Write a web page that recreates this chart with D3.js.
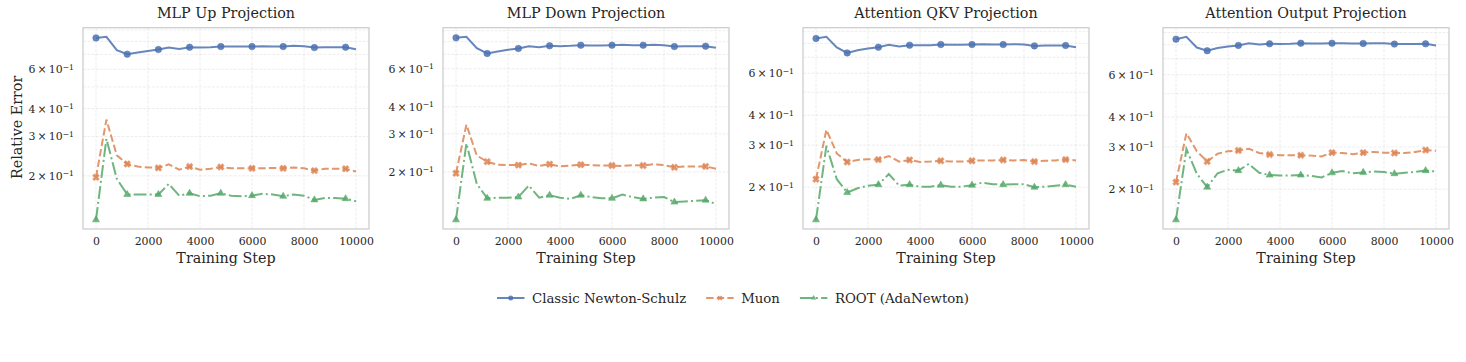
<!DOCTYPE html>
<html><head><meta charset="utf-8">
<script src="https://cdn.jsdelivr.net/npm/d3@7"></script>
<style>
body{margin:0;background:#fff;}
svg text{font-family:"DejaVu Serif",serif;fill:#262626;}
</style>
</head><body>
<svg id="chart" width="1466" height="362"></svg>
<script>
// ---------- data ----------
const steps = [0,400,800,1200,1600,2000,2400,2800,3200,3600,4000,4400,4800,5200,5600,6000,6400,6800,7200,7600,8000,8400,8800,9200,9600,10000];
const panelTitles = ["MLP Up Projection","MLP Down Projection","Attention QKV Projection","Attention Output Projection"];
const seriesNames = ["Classic Newton-Schulz","Muon","ROOT (AdaNewton)"];
const xTickValues = [0,2000,4000,6000,8000,10000];
const yTickValues = [0.2,0.3,0.4,0.6];
const yTickMantissa = ["2","3","4","6"];

const upNS   = [0.829,0.838,0.730,0.701,0.713,0.725,0.735,0.750,0.740,0.753,0.750,0.753,0.758,0.758,0.758,0.758,0.761,0.758,0.758,0.764,0.761,0.750,0.753,0.753,0.753,0.738];
const upMuon = [0.197,0.357,0.247,0.226,0.220,0.218,0.217,0.225,0.213,0.220,0.213,0.215,0.219,0.216,0.216,0.216,0.216,0.217,0.216,0.218,0.216,0.211,0.215,0.215,0.215,0.209];
const upRoot = [0.127,0.293,0.194,0.165,0.165,0.165,0.165,0.184,0.163,0.167,0.162,0.163,0.167,0.163,0.162,0.163,0.166,0.165,0.162,0.165,0.163,0.156,0.159,0.159,0.158,0.154];

const downNS   = [0.834,0.843,0.747,0.706,0.721,0.734,0.745,0.763,0.755,0.766,0.763,0.766,0.771,0.769,0.769,0.771,0.774,0.771,0.771,0.774,0.771,0.760,0.763,0.763,0.763,0.750];
const downMuon = [0.197,0.331,0.238,0.223,0.216,0.215,0.215,0.219,0.213,0.217,0.212,0.214,0.216,0.215,0.214,0.214,0.213,0.215,0.214,0.217,0.215,0.210,0.212,0.212,0.212,0.207];
const downRoot = [0.120,0.271,0.176,0.151,0.152,0.152,0.153,0.173,0.152,0.156,0.152,0.150,0.156,0.153,0.151,0.151,0.157,0.153,0.150,0.152,0.153,0.145,0.146,0.147,0.148,0.142];

const qkvNS   = [0.839,0.852,0.769,0.730,0.749,0.761,0.771,0.789,0.776,0.786,0.786,0.786,0.791,0.789,0.789,0.791,0.794,0.791,0.791,0.794,0.791,0.781,0.784,0.784,0.784,0.771];
const qkvMuon = [0.216,0.348,0.277,0.255,0.260,0.262,0.261,0.270,0.256,0.260,0.255,0.256,0.258,0.256,0.256,0.258,0.259,0.259,0.260,0.259,0.260,0.256,0.258,0.259,0.261,0.259];
const qkvRoot = [0.146,0.298,0.216,0.190,0.198,0.203,0.205,0.227,0.203,0.205,0.201,0.201,0.204,0.201,0.201,0.204,0.209,0.206,0.205,0.206,0.206,0.200,0.201,0.203,0.205,0.201];

const outNS   = [0.844,0.863,0.779,0.755,0.775,0.787,0.795,0.812,0.802,0.807,0.805,0.807,0.812,0.810,0.810,0.812,0.812,0.810,0.810,0.812,0.812,0.805,0.805,0.805,0.807,0.795];
const outMuon = [0.214,0.342,0.288,0.261,0.281,0.288,0.290,0.295,0.283,0.279,0.277,0.277,0.277,0.276,0.274,0.284,0.283,0.280,0.284,0.286,0.284,0.283,0.283,0.286,0.291,0.289];
const outRoot = [0.149,0.294,0.232,0.204,0.233,0.241,0.239,0.255,0.234,0.229,0.228,0.228,0.229,0.227,0.224,0.234,0.238,0.233,0.235,0.237,0.236,0.232,0.234,0.236,0.239,0.237];

const panels = [
  [upNS, upMuon, upRoot],
  [downNS, downMuon, downRoot],
  [qkvNS, qkvMuon, qkvRoot],
  [outNS, outMuon, outRoot]
];

// ---------- style ----------
const colors = ["#4c72b0","#dd8452","#55a868"];
const dashes = [null, "7.4,3.2", "12.8,3.2,2,3.2"];
const markerTypes = ["circle","x","triangle"];
const W = 1466, H = 362;
const panelLeft = [83, 443, 803, 1163];
const panelW = 286, panelTop = 27.7, panelBottom = 229;

const svg = d3.select("#chart");

function markerPath(type, size){
  if(type==="circle") return d3.symbol(d3.symbolCircle, size*size*Math.PI/4)();
  if(type==="triangle") return d3.symbol(d3.symbolTriangle, size*size*0.5)();
  return d3.symbol(d3.symbolCross, size*size*0.62)();
}

panels.forEach((series, pi) => {
  const g = svg.append("g").attr("transform", `translate(${panelLeft[pi]},${panelTop})`);
  const ph = panelBottom - panelTop;
  const x = d3.scaleLinear().domain([-500, 10500]).range([0, panelW]);
  const all = series.flat();
  const lmin = Math.log10(d3.min(all)), lmax = Math.log10(d3.max(all));
  const pad = (lmax - lmin) * 0.05;
  const y = d3.scaleLog().domain([Math.pow(10, lmin - pad), Math.pow(10, lmax + pad)]).range([ph, 0]);

  // grid
  const gridG = g.append("g");
  xTickValues.forEach(v => {
    gridG.append("line").attr("x1", x(v)).attr("x2", x(v)).attr("y1", 0).attr("y2", ph)
      .attr("stroke", "#cccccc").attr("stroke-opacity", 0.45).attr("stroke-width", 0.8).attr("stroke-dasharray", "3,1.3");
  });
  const minorY = [0.1,0.2,0.3,0.4,0.5,0.6,0.7,0.8,0.9].filter(v => v >= y.domain()[0] && v <= y.domain()[1]);
  minorY.forEach(v => {
    gridG.append("line").attr("x1", 0).attr("x2", panelW).attr("y1", y(v)).attr("y2", y(v))
      .attr("stroke", "#cccccc").attr("stroke-opacity", 0.45).attr("stroke-width", 0.8).attr("stroke-dasharray", "3,1.3");
  });

  // x axis
  const xAxis = d3.axisBottom(x).tickValues(xTickValues).tickSize(0).tickPadding(8).tickFormat(d3.format("d"));
  const xa = g.append("g").attr("transform", `translate(0,${ph})`).call(xAxis);
  xa.select(".domain").remove();
  xa.selectAll("text").style("font-size", "10.9px").attr("fill", "#262626");

  // y axis
  const yAxis = d3.axisLeft(y).tickValues(yTickValues).tickSize(0).tickPadding(9).tickFormat(() => "");
  const ya = g.append("g").call(yAxis);
  ya.select(".domain").remove();
  ya.selectAll(".tick text").each(function(d){
    const t = d3.select(this).style("font-size", "10.9px").attr("fill", "#262626");
    const i = yTickValues.indexOf(d);
    t.text(null);
    t.append("tspan").text(yTickMantissa[i] + "\u2009\u00d7\u200910");
    t.append("tspan").attr("dy", "-0.45em").style("font-size", "7.7px").text("\u22121");
  });

  // lines
  series.forEach((vals, si) => {
    const line = d3.line().x((d, i) => x(steps[i])).y(d => y(d));
    g.append("path").datum(vals).attr("d", line)
      .attr("fill", "none").attr("stroke", colors[si]).attr("stroke-width", 2)
      .attr("stroke-opacity", 0.85)
      .attr("stroke-dasharray", dashes[si]);
    const mg = g.append("g");
    vals.forEach((v, i) => {
      if(i % 3 !== 0) return;
      const rot = markerTypes[si] === "x" ? 45 : 0;
      mg.append("path").attr("d", markerPath(markerTypes[si], 6.5))
        .attr("transform", `translate(${x(steps[i])},${y(v)}) rotate(${rot})`)
        .attr("fill", colors[si]).attr("fill-opacity", 0.85)
        .attr("stroke", colors[si]).attr("stroke-opacity", 0.5).attr("stroke-width", 1);
    });
  });

  // frame
  g.append("rect").attr("x", 0).attr("y", 0).attr("width", panelW).attr("height", ph)
    .attr("fill", "none").attr("stroke", "#cccccc").attr("stroke-width", 1.25);

  // title
  g.append("text").attr("x", panelW/2).attr("y", -10).attr("text-anchor", "middle")
    .style("font-size", "14.3px").text(panelTitles[pi]);
  // x label
  g.append("text").attr("x", x(5000)).attr("y", ph + 34.5).attr("text-anchor", "middle")
    .style("font-size", "14.3px").text("Training Step");
  if(pi === 0){
    g.append("text").attr("transform", `translate(${17 - panelLeft[0]},${(ph)/2 - 1}) rotate(-90)`)
      .attr("text-anchor", "middle").attr("dy", "0.35em")
      .style("font-size", "14.3px").text("Relative Error");
  }
});

// legend
const legend = svg.append("g");
let cx = 0;
seriesNames.forEach((name, si) => {
  const ig = legend.append("g");
  ig.append("line").attr("x1", 0).attr("x2", 27.5).attr("y1", 0).attr("y2", 0)
    .attr("stroke", colors[si]).attr("stroke-width", 2).attr("stroke-opacity", 0.85)
    .attr("stroke-dasharray", dashes[si]);
  ig.append("path").attr("d", markerPath(markerTypes[si], 5))
    .attr("transform", `translate(13.75,0) rotate(${markerTypes[si]==="x"?45:0})`)
    .attr("fill", colors[si]).attr("fill-opacity", 0.85);
  const t = ig.append("text").attr("x", 35).attr("dy", "0.35em").style("font-size", "13.3px").text(name);
  const w = 35 + t.node().getComputedTextLength();
  ig.attr("transform", `translate(${cx},0)`);
  cx += w + 20;
});
const totalW = cx - 20;
legend.attr("transform", `translate(${W/2 - totalW/2},298)`);
</script>
</body></html>
